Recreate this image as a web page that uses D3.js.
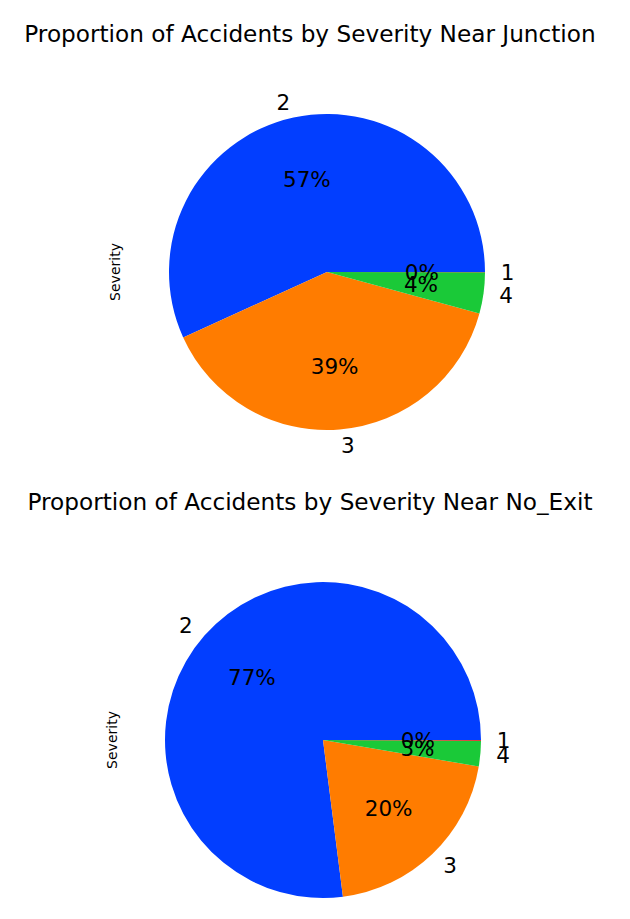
<!DOCTYPE html>
<html>
<head>
<meta charset="utf-8">
<script src="https://cdn.jsdelivr.net/npm/d3@7"></script>
<style>
  body { margin: 0; background: #fff; }
  text { font-family: "DejaVu Sans", sans-serif; fill: #000; }
</style>
</head>
<body>
<div id="chart"></div>
<script>
// slice order as value_counts() gives it
const categories = ['2', '3', '4', '1'];
const junctionShare = [0.567, 0.389, 0.042, 0.0003];
const noExitShare = [0.770, 0.203, 0.026, 0.0008];
const titles = [
  'Proportion of Accidents by Severity Near Junction',
  'Proportion of Accidents by Severity Near No_Exit'
];
const palette = ['#023eff', '#ff7c00', '#1ac938', '#e8000b'];

const width = 630, height = 919;
const radius = 158;

const panels = [
  { title: titles[0], values: junctionShare, cx: 327, cy: 272, titleY: 33, ylabelX: 115 },
  { title: titles[1], values: noExitShare, cx: 323, cy: 740, titleY: 501, ylabelX: 112 }
];

const svg = d3.select('#chart').append('svg')
  .attr('width', width)
  .attr('height', height);

const color = d3.scaleOrdinal().domain(categories).range(palette);

// matplotlib draws counterclockwise starting at 3 o'clock
const pie = d3.pie()
  .sort(null)
  .value(d => d.value)
  .startAngle(Math.PI / 2)
  .endAngle(Math.PI / 2 - 2 * Math.PI);

const arc = d3.arc().innerRadius(0).outerRadius(radius);

panels.forEach(p => {
  svg.append('text')
    .attr('x', 310)
    .attr('y', p.titleY)
    .attr('text-anchor', 'middle')
    .attr('dominant-baseline', 'central')
    .style('font-size', '23.2px')
    .text(p.title);

  const g = svg.append('g').attr('transform', `translate(${p.cx},${p.cy})`);

  const data = pie(categories.map((c, i) => ({ cat: c, value: p.values[i] })));

  g.selectAll('path.slice')
    .data(data)
    .enter()
    .append('path')
    .attr('class', 'slice')
    .attr('d', arc)
    .attr('fill', d => color(d.data.cat));

  const mid = d => (d.startAngle + d.endAngle) / 2;

  // category labels at 1.1 r
  g.selectAll('text.lbl')
    .data(data)
    .enter()
    .append('text')
    .attr('class', 'lbl')
    .attr('x', d => Math.sin(mid(d)) * radius * 1.1)
    .attr('y', d => -Math.cos(mid(d)) * radius * 1.1)
    .attr('text-anchor', d => Math.sin(mid(d)) > 0 ? 'start' : 'end')
    .attr('dominant-baseline', 'central')
    .style('font-size', '21.5px')
    .text(d => d.data.cat);

  // percentages at 0.6 r
  g.selectAll('text.pct')
    .data(data)
    .enter()
    .append('text')
    .attr('class', 'pct')
    .attr('x', d => Math.sin(mid(d)) * radius * 0.6)
    .attr('y', d => -Math.cos(mid(d)) * radius * 0.6)
    .attr('text-anchor', 'middle')
    .attr('dominant-baseline', 'central')
    .style('font-size', '21.5px')
    .text(d => Math.round(d.data.value * 100) + '%');

  svg.append('text')
    .attr('transform', `translate(${p.ylabelX},${p.cy}) rotate(-90)`)
    .attr('text-anchor', 'middle')
    .attr('dominant-baseline', 'central')
    .style('font-size', '14px')
    .text('Severity');
});
</script>
</body>
</html>
